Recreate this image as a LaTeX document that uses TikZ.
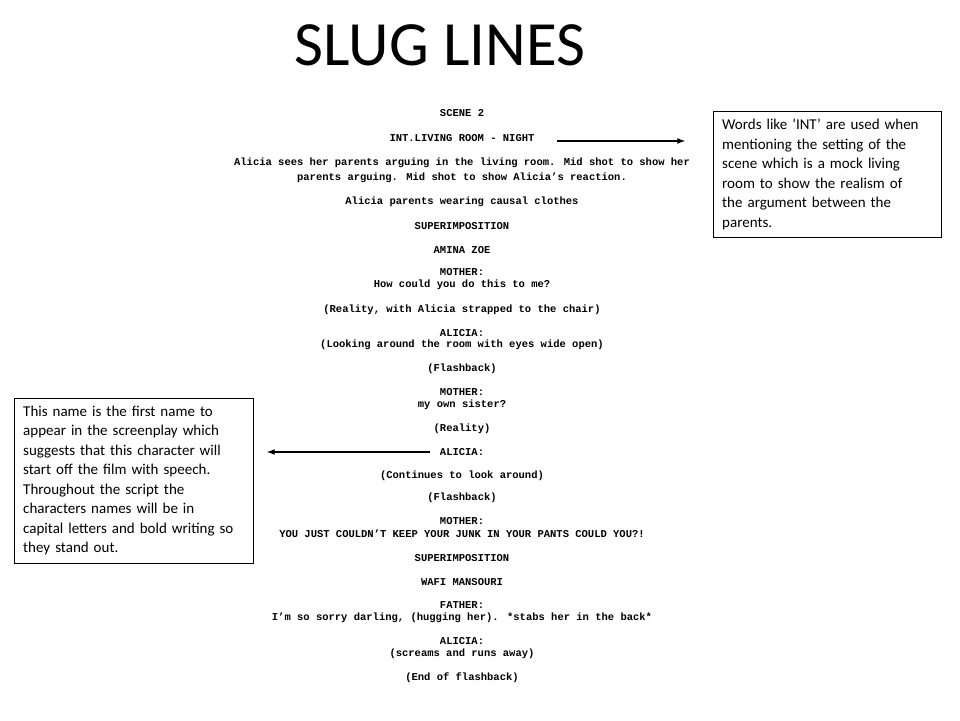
\documentclass[tikz,border=0pt]{standalone}
\usepackage{fontspec}
\setmainfont{Carlito}
\newfontfamily\scr{Liberation Mono}
\begin{document}
\begin{tikzpicture}[x=1pt,y=-1pt,
  sl/.style={font=\scr\bfseries\fontsize{10.5}{12}\selectfont,inner sep=0pt,anchor=center},
  note/.style={draw,thin,anchor=north west,align=left,inner sep=0pt,font=\fontsize{15}{19.5}\selectfont},
  arr/.style={-latex,line width=1.6pt}]
\useasboundingbox (0,0) rectangle (960,720);
\node[font=\fontsize{63}{65}\selectfont] (title) at (440,45) {SLUG LINES};
\def\L#1#2#3{\node[sl] (#1) at (462,#2) {#3};}
\L{a}{113}{SCENE 2}
\L{int}{138}{INT.LIVING ROOM - NIGHT}
\L{c}{163}{Alicia sees her parents arguing in the living room. Mid shot to show her}
\L{d}{178}{parents arguing. Mid shot to show Alicia’s reaction.}
\L{e}{202}{Alicia parents wearing causal clothes}
\L{f}{226}{SUPERIMPOSITION}
\L{g}{250}{AMINA ZOE}
\L{h}{272}{MOTHER:}
\L{i}{285}{How could you do this to me?}
\L{j}{310}{(Reality, with Alicia strapped to the chair)}
\L{k}{333}{ALICIA:}
\L{l}{345}{(Looking around the room with eyes wide open)}
\L{m}{369}{(Flashback)}
\L{n}{392}{MOTHER:}
\L{o}{405}{my own sister?}
\L{p}{429}{(Reality)}
\L{ali}{452}{ALICIA:}
\L{r}{476}{(Continues to look around)}
\L{s}{498}{(Flashback)}
\L{t}{521}{MOTHER:}
\L{u}{534}{YOU JUST COULDN’T KEEP YOUR JUNK IN YOUR PANTS COULD YOU?!}
\L{v}{558}{SUPERIMPOSITION}
\L{w}{582}{WAFI MANSOURI}
\L{x}{605}{FATHER:}
\L{y}{618}{I’m so sorry darling, (hugging her). *stabs her in the back*}
\L{z}{641}{ALICIA:}
\L{aa}{654}{(screams and runs away)}
\L{ab}{678}{(End of flashback)}
\node[note,minimum width=228pt,minimum height=126pt,text width=210pt,inner xsep=9pt] (n1) at (713,111) {Words like ‘INT’ are used when\\ mentioning the setting of the\\ scene which is a mock living\\ room to show the realism of\\ the argument between the\\ parents.};
\node[note,minimum width=239pt,minimum height=165pt,text width=221pt,inner xsep=9pt] (n2) at (14,398) {This name is the first name to\\ appear in the screenplay which\\ suggests that this character will\\ start off the film with speech.\\ Throughout the script the\\ characters names will be in\\ capital letters and bold writing so\\ they stand out.};
\coordinate (r1) at (557,141); \coordinate (r2) at (685,141);
\draw[arr] (r1) -- (r2);
\coordinate (l1) at (430,452); \coordinate (l2) at (267,452);
\draw[arr] (l1) -- (l2);
\end{tikzpicture}
\end{document}
